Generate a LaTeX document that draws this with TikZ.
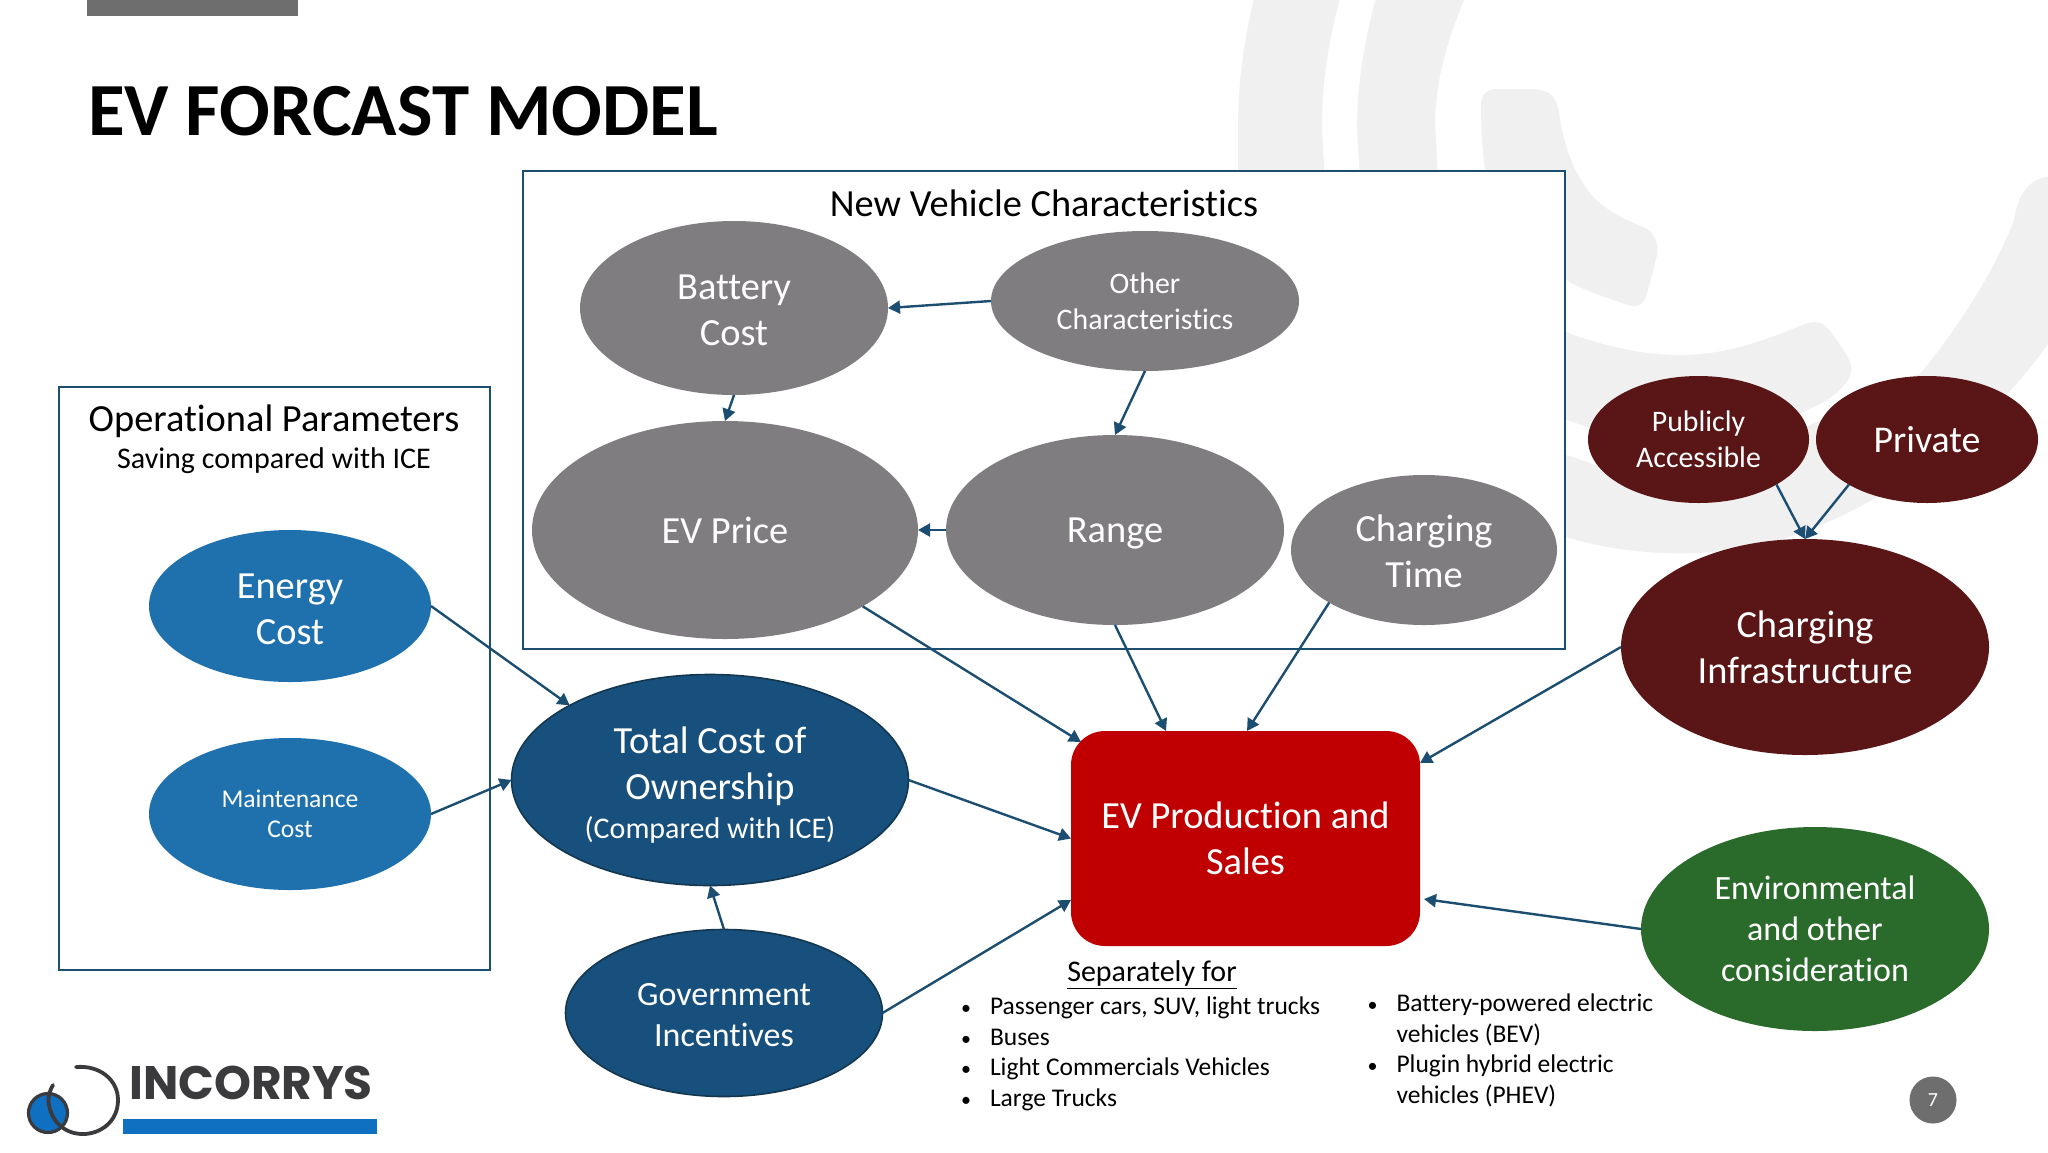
\documentclass[tikz,border=0pt]{standalone}
\usepackage{fontspec}
\setmainfont{Carlito}[Ligatures=CommonOff]
\newfontfamily\logofont{Poppins}
\usetikzlibrary{shapes.geometric,arrows.meta}
\definecolor{wm}{HTML}{F0F0F1}
\definecolor{frame}{HTML}{1C4E72}
\definecolor{grayel}{HTML}{7F7D80}
\definecolor{maroon}{HTML}{5A1616}
\definecolor{lblue}{HTML}{1E71AD}
\definecolor{dblue}{HTML}{18507D}
\definecolor{dgreen}{HTML}{2A6B2C}
\definecolor{evred}{HTML}{C00000}
\definecolor{logoink}{HTML}{3B3B3E}
\definecolor{logoblue}{HTML}{0F6FC0}
\newcommand{\fs}[2]{\fontsize{#1}{#2}\selectfont}
\newcommand{\blt}{\makebox[16pt][l]{\hspace{1.5pt}\fs{10}{10}•}}
\tikzset{
  ell/.style n args={2}{shape=ellipse,minimum width=#1 pt,minimum height=#2 pt,inner sep=0pt,outer sep=0pt,text=white,align=center},
  big/.style={font=\fs{19.2}{23}},
  mid/.style={font=\fs{17}{20.5}},
  small/.style={font=\fs{14.9}{18}},
  grayn/.style={fill=grayel},
  maroonn/.style={fill=maroon},
  lbluen/.style={fill=lblue},
  dbluen/.style={fill=dblue,draw=frame!70!black,line width=0.8pt},
  framebox/.style={draw=frame,line width=1.25pt,fill=white},
  conn/.style={draw=frame,line width=1.2pt,-{Triangle[length=6pt,width=6.5pt]}},
  lab/.style={inner sep=0pt,outer sep=0pt,text=black},
  wmfill/.style={fill=wm,draw=none}
}
\begin{document}
\begin{tikzpicture}[x=0.5pt,y=-0.5pt]
\useasboundingbox (0,0) rectangle (2048,1152);
\begin{scope}
\clip (0,0) rectangle (2048,1152);
\fill[white] (0,0) rectangle (2048,1152);
% watermark
\path[wmfill] (1254,-2) .. controls (1242,50) and (1238,90) .. (1238,130) -- (1238,180) -- (1325,180) -- (1322,130) .. controls (1322,80) and (1328,45) .. (1340,-2) -- cycle;
\path[wmfill] (1376,-2) .. controls (1362,50) and (1357,90) .. (1357,130) -- (1360,180) -- (1438,180) -- (1435,120) .. controls (1436,80) and (1447,40) .. (1465,-2) -- cycle;
\path[wmfill] (1481,105) .. controls (1481,95) and (1486,89) .. (1497,89) -- (1530,89) .. controls (1548,89) and (1556,95) .. (1559,112) .. controls (1562,135) and (1568,160) .. (1583,183) .. controls (1595,205) and (1620,218) .. (1645,228) .. controls (1654,233) and (1659,242) .. (1657,255) -- (1648,290) .. controls (1645,304) and (1638,309) .. (1628,305) .. controls (1605,297) and (1585,291) .. (1566,280) -- (1540,270) -- (1490,200) .. controls (1484,170) and (1481,140) .. (1481,105) -- cycle;
\path[wmfill] (1560,330) .. controls (1600,345) and (1640,355) .. (1680,355) .. controls (1730,355) and (1770,338) .. (1805,324) .. controls (1818,319) and (1826,324) .. (1833,335) .. controls (1845,352) and (1853,362) .. (1851,372) .. controls (1849,384) and (1835,395) .. (1822,403) -- (1720,450) -- (1620,437) -- (1560,418) -- cycle;
\path[wmfill] (1560,453) .. controls (1600,465) and (1650,490) .. (1700,490) -- (1800,430) -- (1921,373) .. controls (1960,325) and (1995,270) .. (2014,220) .. controls (2018,195) and (2028,178) .. (2052,176) -- (2052,338) .. controls (2000,415) and (1900,505) .. (1770,543) .. controls (1700,560) and (1620,555) .. (1560,535) -- cycle;
\end{scope}
% top bar
\fill[fill=black!57] (87,0) rectangle (298,16);
\node[lab,anchor=center,font=\bfseries\fs{37.5}{42}] (title) at (403,111) {EV FORCAST MODEL};
% boxes
\node[framebox,inner sep=0pt,outer sep=0pt,minimum width=521pt,minimum height=239pt] (nvbox) at (1044,410) {};
\node[framebox,inner sep=0pt,outer sep=0pt,minimum width=215.5pt,minimum height=291.5pt] (opbox) at (274.5,678.5) {};
\node[lab,font=\fs{19.2}{22}] (nvlab) at (1044,203) {New Vehicle Characteristics};
\node[lab,font=\fs{19.2}{22}] (oplab) at (274,421) {Operational Parameters};
\node[lab,font=\fs{15}{18}] (oplab2) at (274,461) {Saving compared with ICE};
% ellipses
\node[ell={154}{87},grayn,big] (batt) at (734,308) {\rule{0pt}{15pt}Battery\\Cost};
\node[ell={154}{70},grayn,small] (other) at (1145,301) {Other\\Characteristics};
\node[ell={193}{109},grayn,big] (evp) at (725,530) {\rule{0pt}{14pt}EV Price};
\node[ell={169}{95},grayn,big,text depth=-1pt] (range) at (1115,530) {Range};
\node[ell={133}{75},grayn,big] (ctime) at (1424,550) {\rule{0pt}{15pt}Charging\\Time};
\node[ell={141}{76},lbluen,big] (energy) at (290,606) {\rule{0pt}{16pt}Energy\\Cost};
\node[ell={141}{76},lbluen,font=\fs{12.8}{15}] (maint) at (290,814) {Maintenance\\Cost};
\node[ell={198.5}{105.5},dbluen,big] (tco) at (710,780) {\rule{0pt}{18pt}Total Cost of\\Ownership\\[-3.5pt]{\fs{15}{18}(Compared with ICE)}};
\node[ell={158.5}{83.5},dbluen,mid] (gov) at (724,1013) {\rule{0pt}{13pt}Government\\Incentives};
\node[ell={110.5}{63.5},maroonn,small] (pub) at (1698.5,439.5) {Publicly\\Accessible};
\node[ell={111}{63.5},maroonn,font=\fs{18.9}{20}] (priv) at (1927,439.5) {Private};
\node[ell={184}{108},maroonn,big] (infra) at (1805,647) {Charging\\Infrastructure};
\node[ell={174}{102},fill=dgreen,mid] (env) at (1815,929) {Environmental\\and other\\consideration};
\node[fill=evred,rounded corners=17pt,minimum width=174.5pt,minimum height=107.5pt,inner sep=0pt,outer sep=0pt,text=white,align=center,big] (prod) at (1245.5,838.5) {EV Production and\\Sales};
% arrow ends on the red box
\coordinate (pA) at (1081,742);
\coordinate (pB) at (1166,731);
\coordinate (pC) at (1247,731);
\coordinate (pD) at (1420,763);
\coordinate (pE) at (1424,899);
\coordinate (pF) at (1071,900);
% connectors
\draw[conn] (other.west) -- (batt.east);
\draw[conn] (batt.south) -- (evp.north);
\draw[conn] (other.south) -- (range.north);
\draw[conn] (range.west) -- (evp.east);
\draw[conn] (evp.-29) -- (pA);
\draw[conn] (range.south) -- (pB);
\draw[conn] (ctime.209) -- (pC);
\draw[conn] (infra.west) -- (pD);
\draw[conn] (env.west) -- (pE);
\draw[conn] (energy.east) -- (tco.152);
\draw[conn] (maint.east) -- (tco.west);
\draw[conn] (tco.east) -- (prod.west);
\draw[conn] (gov.north) -- (tco.south);
\draw[conn] (gov.east) -- (pF);
\draw[conn] (pub.-30) -- (infra.north);
\draw[conn] (priv.210) -- (infra.north);
% lists
\node[lab,font=\fs{15}{17}] (sep) at (1152,975) {\underline{Separately for}};
\node[lab,anchor=north west,font=\fs{12.75}{15.3}] (listA) at (958,993) {\begin{tabular}{@{}l@{}l@{}}\blt&Passenger cars, SUV, light trucks\\\blt&Buses\\\blt&Light Commercials Vehicles\\\blt&Large Trucks\end{tabular}};
\node[lab,anchor=north west,font=\fs{12.75}{15.3}] (listB) at (1364.5,990) {\begin{tabular}{@{}l@{}l@{}}\blt&Battery-powered electric\\&vehicles (BEV)\\\blt&Plugin hybrid electric\\&vehicles (PHEV)\end{tabular}};
% page number
\node[circle,fill=black!57,minimum size=23.5pt,inner sep=0pt,text=white,font=\fs{10}{12}] (pg) at (1933,1100) {7};
% logo
\draw[fill=logoblue,draw=logoink,line width=1.6pt] (48,1113) circle[radius=19.5];
\draw[logoink,line width=1.9pt,line cap=round] (76,1067) .. controls (100,1065) and (118,1080) .. (118,1100) .. controls (118,1122) and (100,1134) .. (83,1134) .. controls (65,1134) and (52,1122) .. (49,1105) .. controls (47,1098) and (50,1090) .. (53,1085);
\node[lab,text=logoink,font=\logofont\bfseries\fs{23.5}{26}] (logo) at (251,1083) {INCORRYS};
\fill[logoblue] (123,1119) rectangle (377,1134);
\end{tikzpicture}
\end{document}
